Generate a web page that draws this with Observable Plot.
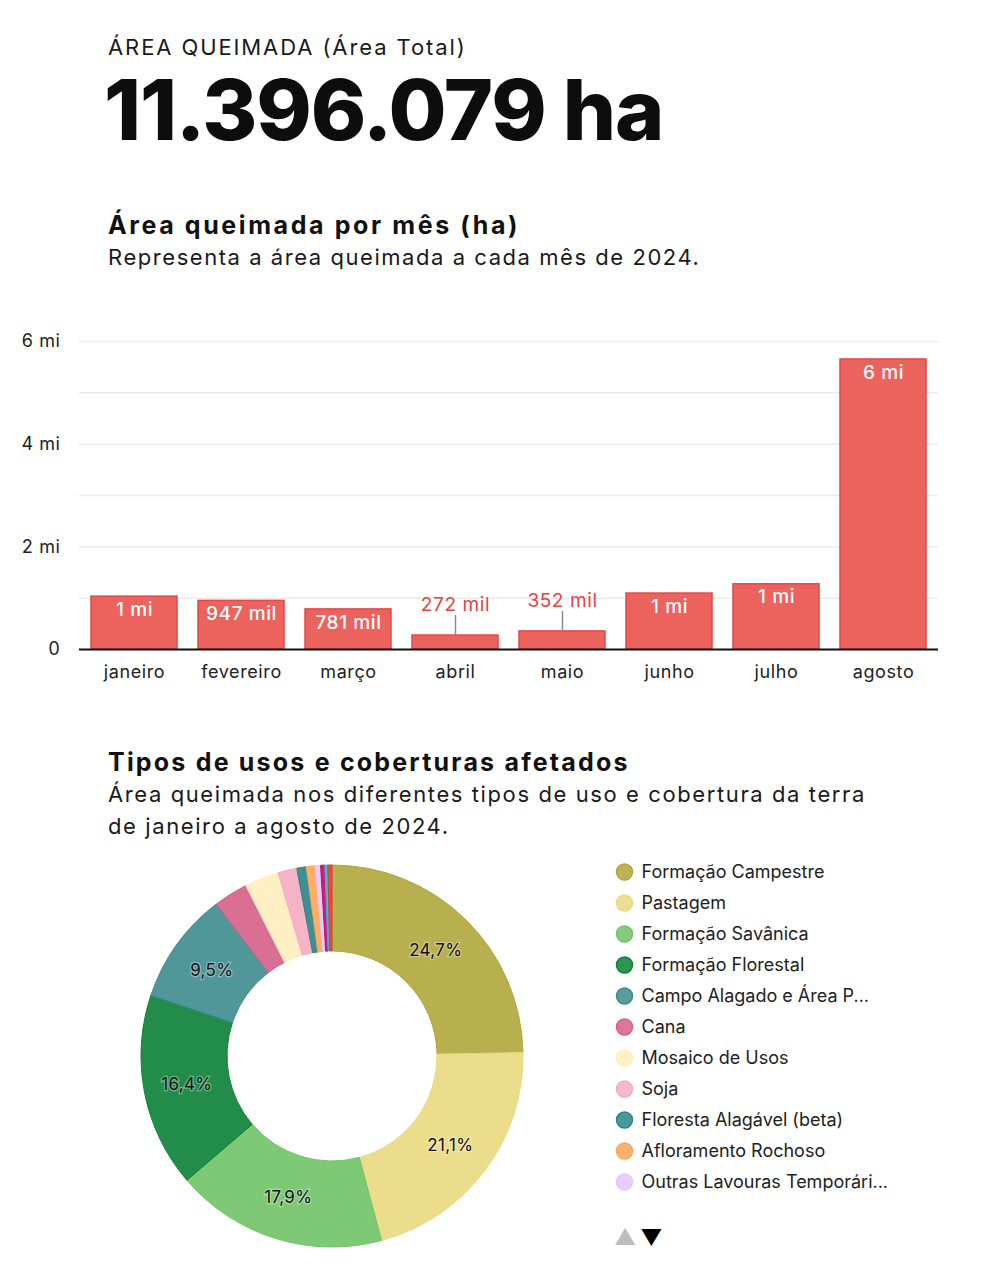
<!DOCTYPE html>
<html lang="pt-BR">
<head>
<meta charset="utf-8">
<script src="https://cdn.jsdelivr.net/npm/d3@7"></script>
<script src="https://cdn.jsdelivr.net/npm/@observablehq/plot@0.6"></script>
<style>
  html, body { margin: 0; padding: 0; background: #fff; }
  #page { position: relative; width: 984px; height: 1282px; overflow: hidden; font-family: Inter, "Noto Sans", sans-serif; color: #111; }
  .t { position: absolute; white-space: nowrap; }
  #kpi-label { left: 108px; top: 33px; font-size: 22px; line-height: 28px; font-weight: 400; letter-spacing: 1.9px; color: #1a1a1a; }
  #kpi-value { left: 104px; top: 66px; font-size: 84px; line-height: 88px; font-weight: 800; letter-spacing: -1.2px; color: #0d0d0d; }
  #bar-title { left: 108px; top: 209px; font-size: 25px; line-height: 32px; font-weight: 700; letter-spacing: 2.6px; }
  #bar-sub { left: 108px; top: 243px; font-size: 22px; line-height: 28px; letter-spacing: 1.55px; color: #1a1a1a; }
  #pie-title { left: 108px; top: 746px; font-size: 25px; line-height: 32px; font-weight: 700; letter-spacing: 2.2px; }
  #pie-sub { left: 108px; top: 778px; font-size: 22px; line-height: 32px; letter-spacing: 1.6px; color: #1a1a1a; }
  #bars { position: absolute; left: 0; top: 320px; }
  #donut { position: absolute; left: 132px; top: 856px; }
  #legend { position: absolute; left: 600px; top: 856px; }
  #pager { position: absolute; left: 614px; top: 1224px; font-size: 22px; line-height: 26px; }
  #pager .up { color: #bdbdbd; }
  #pager .down { color: #000; margin-left: 4px; }
</style>
</head>
<body>
<div id="page">
  <div class="t" id="kpi-label">ÁREA QUEIMADA (Área Total)</div>
  <div class="t" id="kpi-value">11.396.079 ha</div>
  <div class="t" id="bar-title">Área queimada por mês (ha)</div>
  <div class="t" id="bar-sub">Representa a área queimada a cada mês de 2024.</div>
  <div id="bars"></div>
  <div class="t" id="pie-title">Tipos de usos e coberturas afetados</div>
  <div class="t" id="pie-sub">Área queimada nos diferentes tipos de uso e cobertura da terra<br>de janeiro a agosto de 2024.</div>
  <div id="donut"></div>
  <div id="legend"></div>
  <div id="pager"><span class="up">▲</span><span class="down">▼</span></div>
</div>
<script>
// ---------- data ----------
const months = ["janeiro", "fevereiro", "março", "abril", "maio", "junho", "julho", "agosto"];
const monthValues = [1030000, 947000, 781000, 272000, 352000, 1090000, 1270000, 5650000];
const yTicks = [0, 2000000, 4000000, 6000000];

const coverNames = [
  "Formação Campestre", "Pastagem", "Formação Savânica", "Formação Florestal",
  "Campo Alagado e Área Pantanosa", "Cana", "Mosaico de Usos", "Soja",
  "Floresta Alagável (beta)", "Afloramento Rochoso", "Outras Lavouras Temporárias",
  "Arroz", "Outras Lavouras Perenes", "Área Urbanizada"
];
const coverPct = [24.7, 21.1, 17.9, 16.4, 9.5, 2.9, 2.9, 1.6, 0.8, 0.75, 0.45, 0.35, 0.25, 0.35];
const coverColors = [
  "#b0a63b", "#ead980", "#6fc366", "#0a8036",
  "#3e8b8e", "#d55f87", "#ffedbc", "#f4abc2",
  "#2a8585", "#ffa557", "#e2c6ff",
  "#d4006a", "#17c3d6", "#e53935"
];
const legendLabels = [
  "Formação Campestre", "Pastagem", "Formação Savânica", "Formação Florestal",
  "Campo Alagado e Área P...", "Cana", "Mosaico de Usos", "Soja",
  "Floresta Alagável (beta)", "Afloramento Rochoso", "Outras Lavouras Temporári..."
];

// ---------- helpers ----------
const barRows = months.map((m, i) => ({month: months[i], value: monthValues[i]}));
const fmtBar = v => v >= 1e6 ? Math.round(v / 1e6) + " mi" : Math.round(v / 1e3) + " mil";
const fmtAxis = v => v === 0 ? "0" : (v / 1e6) + " mi";
const insideRows = barRows.filter(d => d.value >= 500000);
const outsideRows = barRows.filter(d => d.value < 500000);
const leaderSpan = 390000;

const barFill = "#ec625c";
const barStroke = "#e4484a";
const labelRed = "#e8413e";
const fontStack = "Inter, 'Noto Sans', sans-serif";

// ---------- bar chart ----------
const bars = Plot.plot({
  width: 960, height: 370,
  marginLeft: 79, marginRight: 22, marginTop: 21, marginBottom: 41,
  style: {fontFamily: fontStack, fontSize: "18px", letterSpacing: "0.6px", color: "#222", background: "transparent"},
  x: {domain: months, paddingInner: 0.2, paddingOuter: 0.1, label: null, tickSize: 0, tickPadding: 16},
  y: {domain: [0, 6000000], label: null, ticks: yTicks, tickFormat: fmtAxis, tickSize: 0, tickPadding: 19},
  marks: [
    Plot.gridY({ticks: 6, stroke: "#ececec", strokeOpacity: 1, strokeWidth: 1.5}),
    Plot.barY(barRows, {x: "month", y: "value", fill: barFill, stroke: barStroke, strokeWidth: 1.5}),
    Plot.ruleY([0], {stroke: "#111", strokeWidth: 2}),
    Plot.text(insideRows, {x: "month", y: "value", text: d => fmtBar(d.value), dy: 13, fill: "white", fontSize: 19, fontWeight: 500}),
    Plot.ruleX(outsideRows, {x: "month", y1: "value", y2: d => d.value + leaderSpan, stroke: "#8a8a8a", strokeWidth: 1.5}),
    Plot.text(outsideRows, {x: "month", y: "value", text: d => fmtBar(d.value), dy: -31, fill: labelRed, fontSize: 19, fontWeight: 400})
  ]
});
document.getElementById("bars").append(bars);

// ---------- donut ----------
const slices = coverNames.map((n, i) => ({name: n, pct: coverPct[i]}));
const fmtPct = p => p.toFixed(1).replace(".", ",") + "%";

const donut = Plot.plot({
  width: 400, height: 400, margin: 0,
  style: {fontFamily: fontStack, background: "transparent"},
  color: {domain: coverNames, range: coverColors},
  marks: [
    Plot.dot(slices, {
      fill: "name",
      frameAnchor: "middle",
      render: (index, scales, values, dims) => {
        const g = d3.create("svg:g");
        const cx = dims.width / 2, cy = dims.height / 2;
        const outerR = Math.min(dims.width, dims.height) / 2 - 9;
        const innerR = outerR * 0.55;
        const arcs = d3.pie().sort(null).value(i => slices[i].pct)(Array.from(index));
        const arc = d3.arc().innerRadius(innerR).outerRadius(outerR);
        const mid = (innerR + outerR) / 2;
        const labelArc = d3.arc().innerRadius(mid).outerRadius(mid);
        const gg = g.append("g").attr("transform", `translate(${cx},${cy})`);
        for (const a of arcs) {
          const c = values.fill[a.data];
          gg.append("path").attr("d", arc(a))
            .attr("fill", c).attr("fill-opacity", 0.9)
            .attr("stroke", c).attr("stroke-width", 1);
        }
        for (const a of arcs) {
          const p = slices[a.data].pct;
          if (p < 5) continue;
          const [lx, ly] = labelArc.centroid(a);
          gg.append("text").attr("x", lx).attr("y", ly)
            .attr("text-anchor", "middle").attr("dy", "0.35em")
            .attr("font-size", 17).attr("letter-spacing", "0.3px").attr("fill", "#111")
            .attr("stroke", "white").attr("stroke-opacity", 0.35).attr("stroke-width", 2.5)
            .attr("paint-order", "stroke")
            .text(fmtPct(p));
        }
        return g.node();
      }
    })
  ]
});
document.getElementById("donut").append(donut);

// ---------- legend ----------
const legendNames = coverNames.slice(0, legendLabels.length);
const legendRows = legendNames.map((n, i) => ({name: n, label: legendLabels[i]}));
const legend = Plot.plot({
  width: 340, height: 341, margin: 0,
  style: {fontFamily: fontStack, background: "transparent"},
  y: {type: "band", domain: legendNames, padding: 0, axis: null},
  color: {domain: coverNames, range: coverColors},
  marks: [
    Plot.dot(legendRows, {y: "name", fill: "name", stroke: "name", fillOpacity: 0.85, strokeWidth: 1.5, r: 8, frameAnchor: "left", dx: 24}),
    Plot.text(legendRows, {y: "name", text: "label", frameAnchor: "left", dx: 41, textAnchor: "start", fontSize: 18, letterSpacing: "0.8px", fill: "#222"})
  ]
});
document.getElementById("legend").append(legend);
</script>
</body>
</html>
